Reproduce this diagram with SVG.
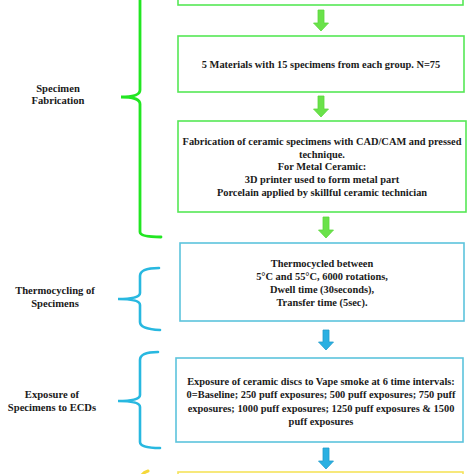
<svg xmlns="http://www.w3.org/2000/svg" width="474" height="474" viewBox="0 0 474 474">
<style>
text{font-family:"Liberation Serif","Times New Roman",serif;font-weight:bold;font-size:10.4px;fill:#1a1a1a;text-anchor:middle}
.lbl{font-size:10.6px}
.bg{fill:#fff;stroke:#55e855;stroke-width:1.6}
.bc{fill:#fff;stroke:#5cc4dc;stroke-width:1.6}
.by{fill:#fff;stroke:#f5e35a;stroke-width:1.6}
.brg{fill:none;stroke:#22e622;stroke-width:2.8;stroke-linecap:round}
.brc{fill:none;stroke:#28b8e0;stroke-width:2.6;stroke-linecap:round}
.bry{fill:none;stroke:#f5d83a;stroke-width:3;stroke-linecap:round}
.ag{fill:#6ae24a;stroke:#5cd83c;stroke-width:0.8}
.ac{fill:#2ab0e2;stroke:#229ccc;stroke-width:0.8}
</style>
<rect width="474" height="474" fill="#fff"/>
<g id="connectors">
<path class="ag" d="M318,10 h6 v13 h4.5 l-7.5,8 l-7.5,-8 h4.5 z"/>
<path class="ag" d="M318,96 h6 v13 h4.5 l-7.5,8 l-7.5,-8 h4.5 z"/>
<path class="ag" d="M323,217 h6 v13 h4.5 l-7.5,8 l-7.5,-8 h4.5 z"/>
<path class="ac" d="M323,330 h6 v12 h4.5 l-7.5,8 l-7.5,-8 h4.5 z"/>
<path class="ac" d="M323,448 h6 v13 h4.5 l-7.5,8 l-7.5,-8 h4.5 z"/>
</g>
<g id="brace-fabrication">
<path class="brg" d="M140,-5 V90 Q140,97 121,97 Q140,97 140,104 V232 Q140,237 161,237"/>
<text class="lbl" x="58" y="92">Specimen</text>
<text class="lbl" x="58" y="104">Fabrication</text>
</g>
<g id="brace-thermo">
<path class="brc" d="M159,268 Q140,268 140,276 V293 Q140,299 118,299 Q140,299 140,305 V322 Q140,329 160,330"/>
<text class="lbl" x="55" y="294">Thermocycling of</text>
<text class="lbl" x="55" y="307">Specimens</text>
</g>
<g id="brace-exposure">
<path class="brc" d="M158,352 Q140,352 140,360 V395 Q140,401 118,401 Q140,401 140,407 V442 Q140,448 160,448"/>
<text class="lbl" x="52" y="398">Exposure of</text>
<text class="lbl" x="52" y="411">Specimens to ECDs</text>
</g>
<g id="brace-yellow">
<path class="bry" d="M148,471 Q141,473 140,480"/>
</g>
<g id="node1">
<rect class="bg" x="178" y="-10" width="285" height="15"/>
</g>
<g id="node2">
<rect class="bg" x="178" y="36" width="286" height="56"/>
<text x="321" y="68">5 Materials with 15 specimens from each group. N=75</text>
</g>
<g id="node3">
<rect class="bg" x="178" y="121" width="288" height="91"/>
<text x="322" y="145">Fabrication of ceramic specimens with CAD/CAM and pressed</text>
<text x="322" y="158">technique.</text>
<text x="322" y="170">For Metal Ceramic:</text>
<text x="322" y="183">3D printer used to form metal part</text>
<text x="322" y="196">Porcelain applied by skillful ceramic technician</text>
</g>
<g id="node4">
<rect class="bc" x="180" y="243" width="284" height="78"/>
<text x="322" y="267">Thermocycled between</text>
<text x="322" y="280">5°C and 55°C, 6000 rotations,</text>
<text x="322" y="293">Dwell time (30seconds),</text>
<text x="322" y="306">Transfer time (5sec).</text>
</g>
<g id="node5">
<rect class="bc" x="176" y="358" width="287" height="84"/>
<text x="321" y="385">Exposure of ceramic discs to Vape smoke at 6 time intervals:</text>
<text x="321" y="398">0=Baseline; 250 puff exposures; 500 puff exposures; 750 puff</text>
<text x="321" y="412">exposures; 1000 puff exposures; 1250 puff exposures &amp; 1500</text>
<text x="321" y="425">puff exposures</text>
</g>
<g id="node6">
<rect class="by" x="178" y="472" width="285" height="20"/>
</g>
</svg>
